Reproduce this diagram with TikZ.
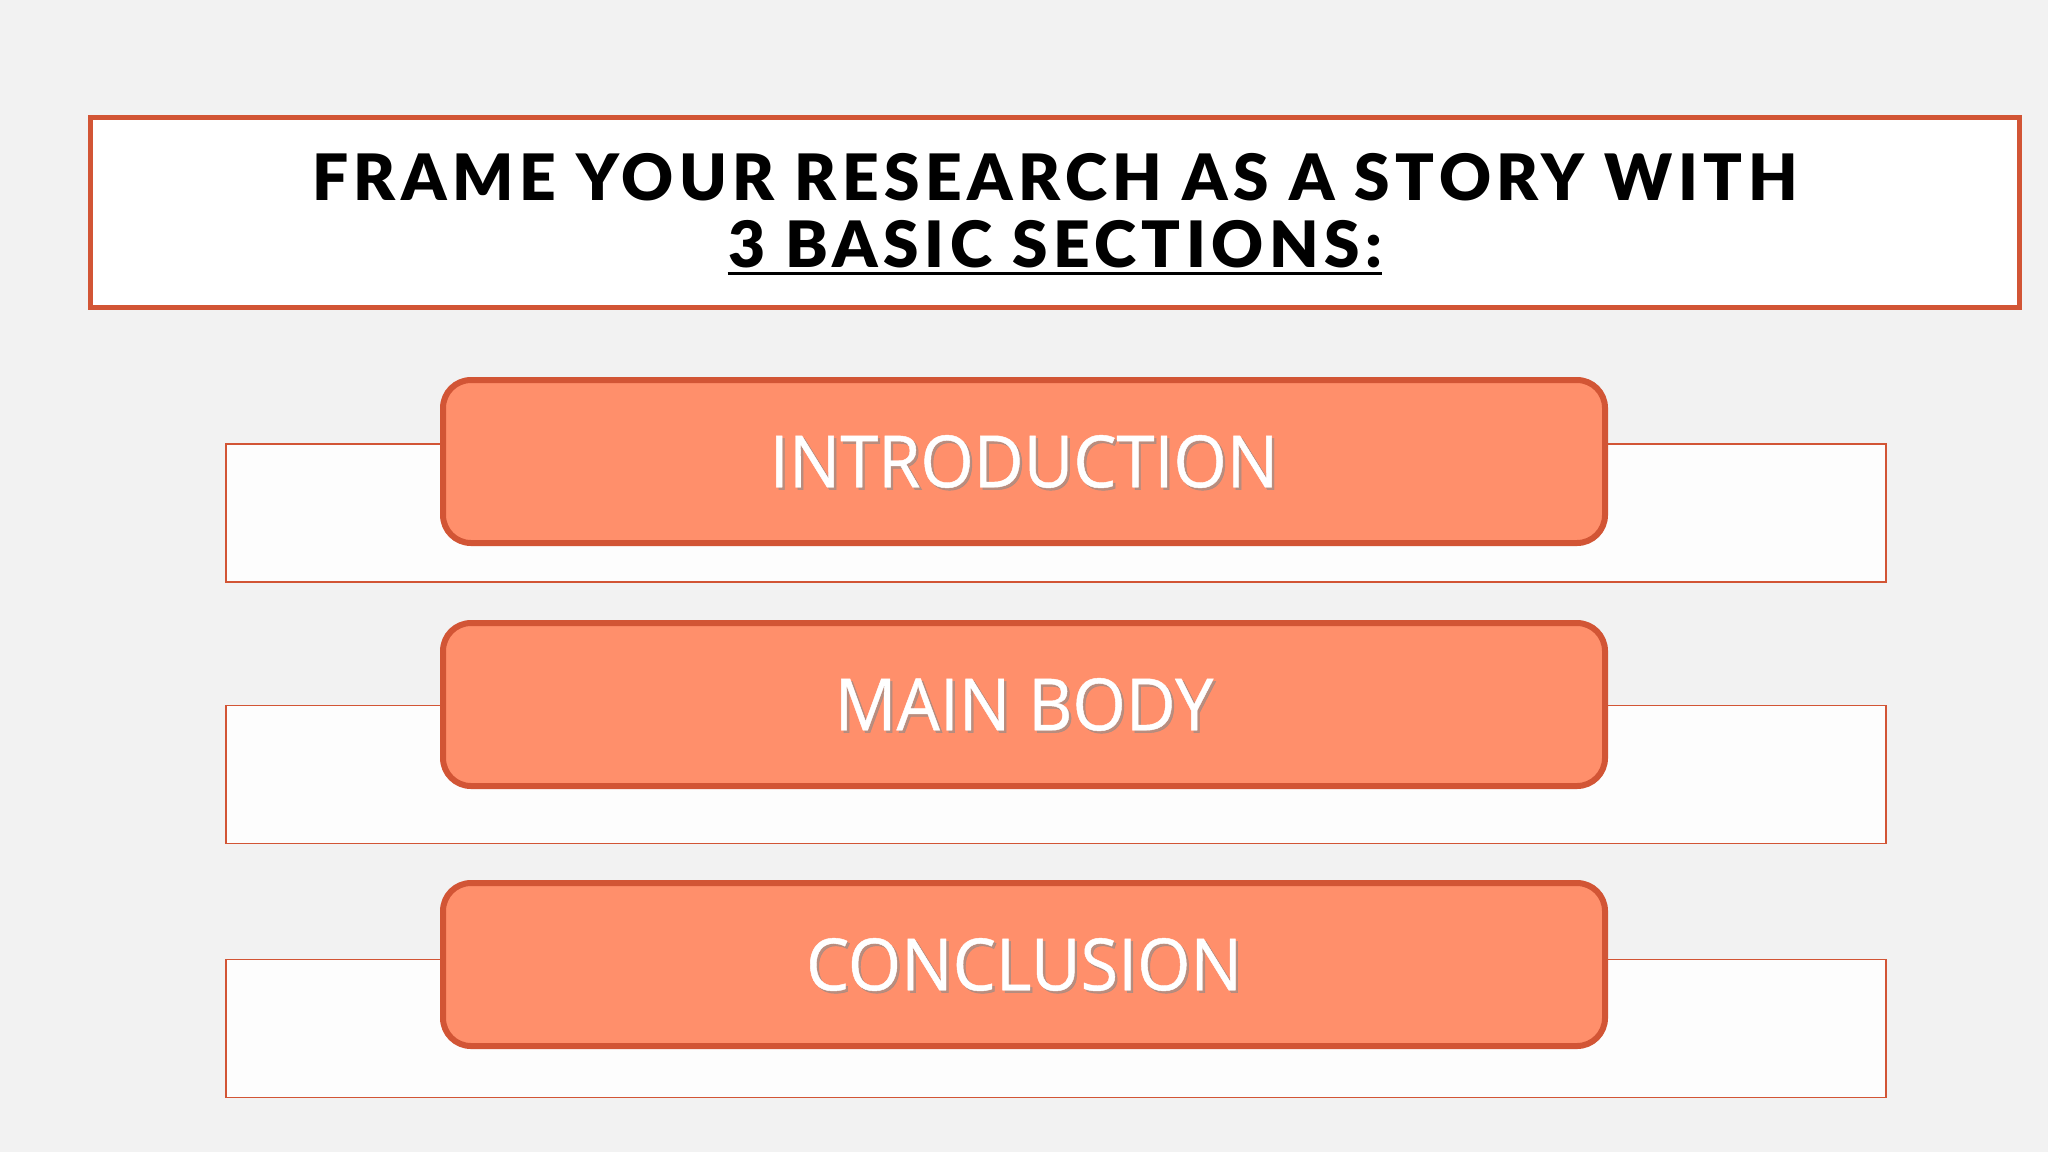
\documentclass[tikz,border=0pt]{standalone}
\usepackage{fontspec}
\newfontfamily\titlefont{Lato Black}[LetterSpace=8.5]
\newfontfamily\labelfont{Open Sans}[FakeStretch=0.95,FakeBold=0.6]
\definecolor{bgc}{HTML}{F2F2F2}
\definecolor{edgec}{HTML}{D25535}
\definecolor{fillc}{HTML}{FF8F6B}
\definecolor{backc}{HTML}{FDFDFD}
\tikzset{
  titlebox/.style={draw=edgec, line width=2.5pt, fill=white, minimum width=964.5pt, minimum height=95pt, inner sep=0pt},
  backbox/.style={draw=edgec, line width=0.9pt, fill=backc, minimum width=830pt, minimum height=69pt, inner sep=0pt},
  stagebox/.style={draw=edgec, line width=3pt, fill=fillc, rounded corners=14pt, minimum width=581pt, minimum height=81.5pt, inner sep=0pt},
  titletext/.style={font=\titlefont\fontsize{32}{36}\selectfont, inner sep=0pt, anchor=base},
  labeltext/.style={font=\labelfont\fontsize{36}{40}\selectfont, text=white, inner sep=0pt},
  labelshadow/.style={font=\labelfont\fontsize{36}{40}\selectfont, text=black!45, inner sep=0pt, opacity=0.6}
}
\begin{document}
\begin{tikzpicture}[x=0.5pt,y=-0.5pt]
\fill[bgc] (0,0) rectangle (2048,1152);
\useasboundingbox (0,0) rectangle (2048,1152);
\node[titlebox] (title) at (1055,212.5) {};
\node[titletext] (t1) at (1055,200) {FRAME YOUR RESEARCH AS A STORY WITH};
\node[titletext] (t2) at (1055,267) {3 BASIC SECTIONS:};
\draw[line width=1.5pt] ([yshift=-3pt]t2.base west) -- ([yshift=-3pt]t2.base east);
\node[backbox] (b1) at (1056,513) {};
\node[backbox] (b2) at (1056,774.5) {};
\node[backbox] (b3) at (1056,1028.5) {};
\node[stagebox] (s1) at (1024,461.5) {};
\node[stagebox] (s2) at (1024,704.5) {};
\node[stagebox] (s3) at (1024,964.5) {};
\foreach \n/\t in {s1/INTRODUCTION, s2/MAIN BODY, s3/CONCLUSION}{
  \node[labelshadow] at ([xshift=1.2pt,yshift=-1.2pt]\n.center) {\t};
  \node[labeltext] (l\n) at (\n.center) {\t};
}
\end{tikzpicture}
\end{document}
